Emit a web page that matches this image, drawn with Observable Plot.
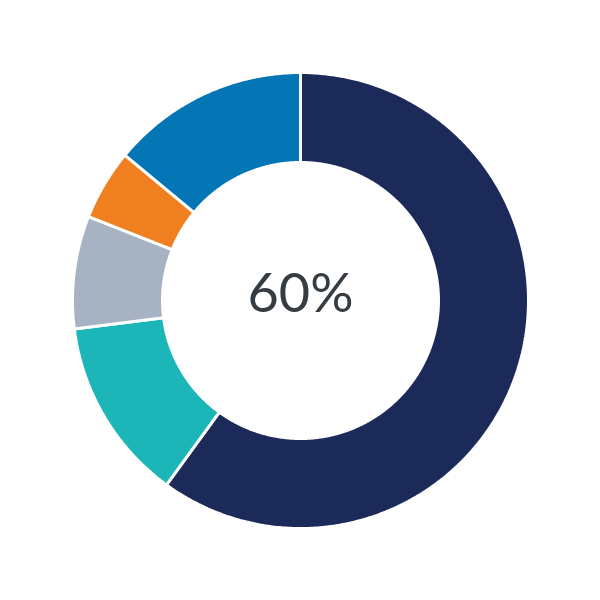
<!DOCTYPE html>
<html>
<head>
<meta charset="utf-8">
<script src="https://cdn.jsdelivr.net/npm/d3@7"></script>
<script src="https://cdn.jsdelivr.net/npm/@observablehq/plot@0.6"></script>
<style>
  html, body { margin: 0; padding: 0; background: #fff; }
</style>
</head>
<body>
<div id="chart"></div>
<script>
const categories = ["A", "B", "C", "D", "E"];
const values = [60, 13, 8, 5, 14];
const colors = ["#1c2a5a", "#1db6b8", "#a7b2c2", "#f07f1f", "#0576b5"];
const centerLabel = "60%";

const outerR = 228, innerR = 138;
const pie = d3.pie().sort(null).value(d => d.value);
const arcs = pie(categories.map((c, i) => ({ cat: c, value: values[i] })));

const pts = [];
for (const a of arcs) {
  const n = Math.max(8, Math.ceil((a.endAngle - a.startAngle) / 0.01));
  const poly = [];
  for (let k = 0; k <= n; k++) {
    const t = a.startAngle + (a.endAngle - a.startAngle) * k / n;
    poly.push([outerR * Math.sin(t), outerR * Math.cos(t)]);
  }
  for (let k = n; k >= 0; k--) {
    const t = a.startAngle + (a.endAngle - a.startAngle) * k / n;
    poly.push([innerR * Math.sin(t), innerR * Math.cos(t)]);
  }
  poly.push(poly[0]);
  for (const [x, y] of poly) pts.push({ cat: a.data.cat, x, y });
}

const chart = Plot.plot({
  width: 600,
  height: 600,
  margin: 0,
  x: { domain: [-300, 300], axis: null },
  y: { domain: [-300, 300], axis: null },
  color: { domain: categories, range: colors },
  style: { background: "#fff" },
  marks: [
    Plot.line(pts, { x: "x", y: "y", z: "cat", fill: "cat", stroke: "#fff", strokeWidth: 3, curve: "linear", strokeLinejoin: "miter" }),
    Plot.text([centerLabel], { x: () => 0, y: () => 0, text: d => d, fontSize: 54, fontWeight: 400, fill: "#353c42", fontFamily: "Lato, sans-serif", dy: -6 })
  ]
});
document.getElementById("chart").appendChild(chart);
</script>
</body>
</html>
